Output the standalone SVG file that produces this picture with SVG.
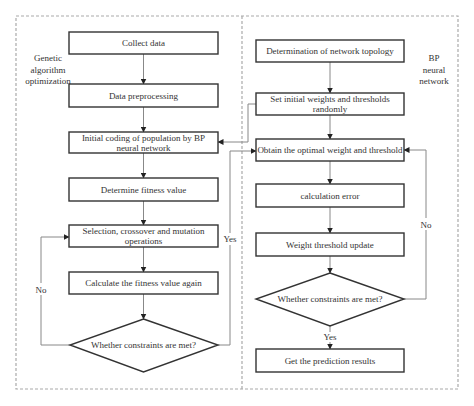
<svg xmlns="http://www.w3.org/2000/svg" width="474" height="406" viewBox="0 0 474 406">
<style>
.box{fill:#fff;stroke:#333;stroke-width:1.4}
.t{font-family:"Liberation Serif",serif;font-size:9px;fill:#333;text-anchor:middle}
.c{fill:none;stroke:#888;stroke-width:1}
.d{fill:none;stroke:#aaa;stroke-width:1.2;stroke-dasharray:3,2}
</style>
<defs>
<marker id="a" markerWidth="6" markerHeight="6" refX="5.5" refY="3" orient="auto" markerUnits="userSpaceOnUse">
<path d="M0,0 L6,3 L0,6 Z" fill="#222"/>
</marker>
</defs>
<rect width="474" height="406" fill="#fff"/>
<g id="regions">
<rect class="d" x="16" y="16" width="442" height="373"/>
<line class="d" x1="242" y1="16" x2="242" y2="389"/>
<text class="t" x="48" y="61">Genetic</text>
<text class="t" x="48" y="73">algorithm</text>
<text class="t" x="48" y="84">optimization</text>
<text class="t" x="434" y="61">BP</text>
<text class="t" x="434" y="73">neural</text>
<text class="t" x="434" y="84">network</text>
</g>
<g id="connectors">
<line class="c" x1="143.5" y1="54" x2="143.5" y2="84" marker-end="url(#a)"/>
<line class="c" x1="143.5" y1="107" x2="143.5" y2="132" marker-end="url(#a)"/>
<line class="c" x1="143.5" y1="153" x2="143.5" y2="178" marker-end="url(#a)"/>
<line class="c" x1="143.5" y1="201" x2="143.5" y2="225" marker-end="url(#a)"/>
<line class="c" x1="143.5" y1="247" x2="143.5" y2="272" marker-end="url(#a)"/>
<line class="c" x1="143.5" y1="294" x2="143.5" y2="319" marker-end="url(#a)"/>
<polyline class="c" points="70,345 41,345 41,237 69,237" marker-end="url(#a)"/>
<polyline class="c" points="218,345 230,345 230,151 256,151" marker-end="url(#a)"/>
<polyline class="c" points="256,104 248,104 248,142 218,142" marker-end="url(#a)"/>
<line class="c" x1="330" y1="62" x2="330" y2="93" marker-end="url(#a)"/>
<line class="c" x1="330" y1="115" x2="330" y2="139" marker-end="url(#a)"/>
<line class="c" x1="330" y1="161" x2="330" y2="184" marker-end="url(#a)"/>
<line class="c" x1="330" y1="207" x2="330" y2="233" marker-end="url(#a)"/>
<line class="c" x1="330" y1="256" x2="330" y2="273" marker-end="url(#a)"/>
<line class="c" x1="330" y1="326" x2="330" y2="349" marker-end="url(#a)"/>
<polyline class="c" points="404,299 426,299 426,150 404,150" marker-end="url(#a)"/>
<rect x="34" y="283" width="14" height="12" fill="#fff"/>
<text class="t" x="41" y="293">No</text>
<rect x="222" y="233" width="16" height="12" fill="#fff"/>
<text class="t" x="230" y="242">Yes</text>
<rect x="419" y="218" width="14" height="12" fill="#fff"/>
<text class="t" x="426" y="228">No</text>
<rect x="322" y="332" width="16" height="10" fill="#fff"/>
<text class="t" x="330" y="340">Yes</text>
</g>
<g id="collect">
<rect class="box" x="69" y="32" width="149" height="22"/>
<text class="t" x="143.5" y="46">Collect data</text>
</g>
<g id="preprocess">
<rect class="box" x="69" y="84" width="149" height="23"/>
<text class="t" x="143.5" y="98.5">Data preprocessing</text>
</g>
<g id="initcoding">
<rect class="box" x="69" y="132" width="149" height="21"/>
<text class="t" x="143.5" y="140.5">Initial coding of population by BP</text>
<text class="t" x="143.5" y="150.5">neural network</text>
</g>
<g id="fitness">
<rect class="box" x="69" y="178" width="149" height="23"/>
<text class="t" x="143.5" y="192.5">Determine fitness value</text>
</g>
<g id="selection">
<rect class="box" x="69" y="225" width="149" height="22"/>
<text class="t" x="143.5" y="233.5">Selection, crossover and mutation</text>
<text class="t" x="143.5" y="244">operations</text>
</g>
<g id="fitness2">
<rect class="box" x="69" y="272" width="149" height="22"/>
<text class="t" x="143.5" y="286">Calculate the fitness value again</text>
</g>
<g id="decision1">
<polygon class="box" points="143.5,319 218,345 143.5,372 70,345"/>
<text class="t" x="143.5" y="348">Whether constraints are met?</text>
</g>
<g id="topology">
<rect class="box" x="256" y="40" width="148" height="22"/>
<text class="t" x="330" y="54">Determination of network topology</text>
</g>
<g id="initweights">
<rect class="box" x="256" y="93" width="148" height="22"/>
<text class="t" x="330" y="102">Set initial weights and thresholds</text>
<text class="t" x="330" y="112">randomly</text>
</g>
<g id="optimal">
<rect class="box" x="256" y="139" width="148" height="22"/>
<text class="t" x="330" y="153">Obtain the optimal weight and threshold</text>
</g>
<g id="error">
<rect class="box" x="256" y="184" width="148" height="23"/>
<text class="t" x="330" y="198.5">calculation error</text>
</g>
<g id="update">
<rect class="box" x="256" y="233" width="148" height="23"/>
<text class="t" x="330" y="247.5">Weight threshold update</text>
</g>
<g id="decision2">
<polygon class="box" points="330,273 404,299 330,326 256,299"/>
<text class="t" x="330" y="302">Whether constraints are met?</text>
</g>
<g id="result">
<rect class="box" x="256" y="349" width="148" height="23"/>
<text class="t" x="330" y="363.5">Get the prediction results</text>
</g>
</svg>
